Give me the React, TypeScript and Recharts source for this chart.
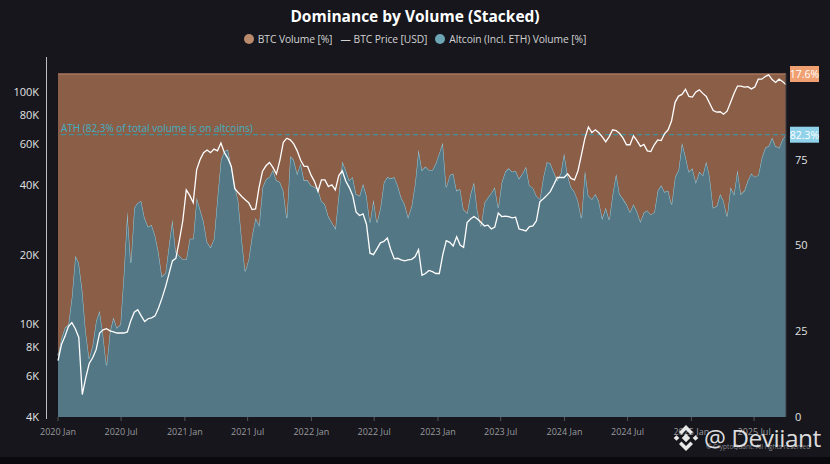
import React from 'react';
import {
  ComposedChart,
  Area,
  Line,
  XAxis,
  YAxis,
  ReferenceLine,
} from 'recharts';

// one reading every 10 days, starting 2020-01-01
const START_DATE = '2020-01-01';
const STEP_DAYS = 10;

// Altcoin (incl. ETH) share of total volume, %
const altcoinVolumePct = [
  18, 23, 26, 27, 35, 47, 45, 37, 25, 17,
  21, 28, 31, 24, 15, 25, 29, 26, 27, 42,
  60, 45, 61, 62.5, 63, 58, 55.5, 56, 53, 48,
  41, 42, 50, 57.6, 48, 47, 46, 46, 52, 52,
  64, 60.5, 57, 51, 49.5, 52, 64, 75, 77.5, 78,
  73, 67.5, 63, 52, 42.5, 46, 53, 58, 56, 67,
  69.3, 70, 72, 69, 68.5, 66, 58, 76, 75, 71,
  74, 69, 69, 67.5, 67, 66.5, 63, 62, 58.5, 56.7,
  55, 65, 74.5, 72, 69, 70, 65, 64.5, 68, 64.5,
  56.7, 63.4, 56.7, 61, 68.4, 70, 69.5, 70, 67.5, 64,
  62, 58.3, 61.5, 68, 78, 72, 73, 72, 72, 74,
  77, 80, 67, 70.5, 71, 66, 66.5, 60.5, 59.5, 65,
  68.5, 60, 55.6, 62.5, 64, 65.3, 67, 61, 68.5, 71.5,
  72.5, 71.5, 71.8, 69.5, 71, 73, 67.5, 66.8, 64.5, 63.5,
  70, 74.3, 74, 71.5, 69, 71, 77, 70.5, 67, 65.7,
  63, 58, 72, 64.5, 63.5, 65, 63, 58, 61, 57.5,
  65, 71, 65, 63.6, 62, 59.8, 62, 60, 57, 59.6,
  60.2, 59, 59.7, 66, 67.6, 65.6, 66, 62, 70, 72,
  80, 76, 71.5, 72.5, 68.5, 71.5, 70.5, 74.5, 70, 61,
  61.5, 65, 63, 58.5, 67, 65, 72, 65, 66, 69,
  71, 70, 70.5, 75.5, 78.5, 79, 81.5, 79, 78.5, 81,
  82.3,
];

// BTC price, thousands of USD
const btcPriceK = [
  7.0, 8.2, 8.9, 9.8, 10.2, 9.6, 8.8, 5.0, 5.9, 6.8,
  7.2, 7.8, 9.2, 9.5, 9.6, 9.4, 9.3, 9.2, 9.2, 9.2,
  9.3, 10.4, 11.3, 11.6, 10.9, 10.3, 10.6, 10.7, 10.9, 11.8,
  13.0, 14.5, 16.5, 18.8, 19.3, 23, 28, 38, 36, 33.5,
  46.5, 51.4, 55, 56.5, 55, 57, 56, 60.5, 55, 52,
  48, 38.5, 37, 35.6, 34.5, 33.5, 31.3, 31.5, 39, 45.8,
  48.3, 49.9, 47.5, 44.5, 51, 61, 63.5, 62.5, 60, 56,
  51, 48, 48, 44, 41.3, 37.5, 42, 42, 39.3, 40,
  38, 43.8, 46, 41.5, 39, 36, 30.5, 29.5, 30, 27,
  20.3, 20, 21.2, 22.5, 22.8, 23.6, 21, 19.2, 19.3, 19,
  18.8, 19, 19.1, 19.6, 21, 16.3, 16.6, 17.1, 16.9, 16.6,
  16.6, 20, 23, 22.6, 21.8, 23.9, 22, 21.5, 27.5, 28.5,
  29.2, 28.5, 27.6, 26.6, 26.8, 25.8, 26.3, 30.2, 29.2, 29.3,
  29.2, 28.8, 29, 25.8, 25.6, 25.3, 26.4, 26.6, 28, 33.8,
  34.8, 36, 37.4, 40, 43, 43, 43, 44.6, 42.6, 42,
  46, 54, 63.5, 71, 67.2, 69, 67, 64.3, 61.3, 64.5,
  69, 68.5, 66.5, 63.5, 59.5, 59.5, 65, 62, 58.5, 59.7,
  56, 55.6, 59.5, 62.4, 62, 66.5, 69, 75.5, 90.6, 96.4,
  98, 103, 96, 95.5, 100.5, 102.5, 99, 96, 89.5, 83.5,
  82.3, 82.5, 80.5, 83, 90.5, 99, 106.5, 106.5, 105.3, 105.8,
  103.5, 105.5, 114, 114, 117, 119, 113.5, 110.4, 114, 111.5,
  108,
];

const X_TICKS = [
  '2020-01-01', '2020-07-01', '2021-01-01', '2021-07-01', '2022-01-01', '2022-07-01',
  '2023-01-01', '2023-07-01', '2024-01-01', '2024-07-01', '2025-01-01', '2025-07-01',
];
const PRICE_TICKS = [4000, 6000, 8000, 10000, 20000, 40000, 60000, 80000, 100000];
const PCT_TICKS = [0, 25, 50, 75];

const ATH_PCT = 82.3;
const LAST_BTC_PCT = 17.6;

const BG = '#16161c';
const BROWN = '#8b5e48';
const TEAL = '#547785';
const TEAL_LINE = '#92c9d9';

const DAY = 86400000;
const t0 = Date.parse(START_DATE);

const data = altcoinVolumePct.map((alt, i) => ({
  t: t0 + i * STEP_DAYS * DAY,
  alt,
  btcVol: +(100 - alt).toFixed(1),
  price: btcPriceK[i] * 1000,
}));

const xTickValues = X_TICKS.map((d) => Date.parse(d));
const fmtDate = (v: number) => {
  const d = new Date(v);
  return `${d.getUTCFullYear()} ${d.getUTCMonth() === 0 ? 'Jan' : 'Jul'}`;
};

const Badge = (props: any) => {
  const { viewBox, text, color } = props;
  if (!viewBox) return null;
  const x = viewBox.x + viewBox.width + 4;
  const y = viewBox.y;
  return (
    <g>
      <rect x={x} y={y - 8} width={29} height={16} fill={color} />
      <text x={x + 14.5} y={y + 4} textAnchor="middle" fill="#ffffff" fontSize={10.5}>
        {text}
      </text>
    </g>
  );
};

const Dot = ({ color }: { color: string }) => (
  <span
    style={{
      display: 'inline-block',
      width: 10,
      height: 10,
      borderRadius: 5,
      background: color,
      marginRight: 4,
      verticalAlign: -1,
    }}
  />
);

const BinanceMark = () => (
  <svg width={30} height={30} viewBox="0 0 30 30" style={{ position: 'absolute', left: 671, top: 423 }}>
    <g fill="#e8e8e8">
      <rect x={12} y={12} width={6} height={6} transform="rotate(45 15 15)" />
      <rect x={3.5} y={13} width={4} height={4} transform="rotate(45 5.5 15)" />
      <rect x={22.5} y={13} width={4} height={4} transform="rotate(45 24.5 15)" />
      <polygon points="15,2 22,9 19.5,11.5 15,7 10.5,11.5 8,9" />
      <polygon points="15,28 22,21 19.5,18.5 15,23 10.5,18.5 8,21" />
    </g>
  </svg>
);

export default function App() {
  return (
    <div
      style={{
        position: 'absolute',
        left: 0,
        top: 0,
        width: 830,
        height: 464,
        background: BG,
        fontFamily: '"Open Sans", sans-serif',
        overflow: 'hidden',
      }}
    >
      <div
        style={{
          position: 'absolute',
          top: 5,
          width: 830,
          textAlign: 'center',
          color: '#ffffff',
          fontSize: 15.5,
          fontWeight: 700,
        }}
      >
        Dominance by Volume (Stacked)
      </div>
      <div
        style={{
          position: 'absolute',
          top: 32,
          width: 830,
          textAlign: 'center',
          color: '#d2d2d2',
          fontSize: 10.3,
          whiteSpace: 'nowrap',
          letterSpacing: -0.1,
        }}
      >
        <Dot color="#b98a6c" />
        <span style={{ marginRight: 8 }}>BTC Volume [%]</span>
        <span style={{ marginRight: 3 }}>—</span>
        <span style={{ marginRight: 8 }}>BTC Price [USD]</span>
        <Dot color="#6ea5b5" />
        <span>Altcoin (Incl. ETH) Volume [%]</span>
      </div>

      <ComposedChart
        width={830}
        height={464}
        data={data}
        margin={{ top: 74, right: 0, bottom: 0, left: 0 }}
        style={{ position: 'absolute', left: 0, top: 0 }}
      >
        <XAxis
          dataKey="t"
          type="number"
          domain={[data[0].t, data[data.length - 1].t]}
          ticks={xTickValues}
          tickFormatter={fmtDate}
          height={47}
          axisLine={false}
          tickLine={{ stroke: '#55555c' }}
          tickSize={4}
          tickMargin={8}
          tick={{ fill: '#9a9a9e', fontSize: 9 }}
          interval={0}
        />
        <YAxis
          yAxisId="price"
          orientation="left"
          scale="log"
          type="number"
          domain={[4000, 120000]}
          allowDataOverflow
          ticks={PRICE_TICKS}
          tickFormatter={(v: number) => `${v / 1000}K`}
          width={58}
          axisLine={false}
          tickLine={false}
          tickSize={6}
          tickMargin={13}
          tick={{ fill: '#e2e2e2', fontSize: 11 }}
          interval={0}
        />
        <YAxis
          yAxisId="pct"
          orientation="right"
          type="number"
          domain={[0, 100]}
          ticks={PCT_TICKS}
          width={44}
          axisLine={{ stroke: '#3a3a42' }}
          tickLine={false}
          tickSize={6}
          tickMargin={3}
          tick={{ fill: '#e2e2e2', fontSize: 11 }}
          interval={0}
        />
        <Area
          yAxisId="pct"
          type="linear"
          dataKey="alt"
          stackId="vol"
          fill={TEAL}
          fillOpacity={1}
          stroke={TEAL_LINE}
          strokeWidth={1.1}
          isAnimationActive={false}
        />
        <Area
          yAxisId="pct"
          type="linear"
          dataKey="btcVol"
          stackId="vol"
          fill={BROWN}
          fillOpacity={1}
          stroke="#a8775c"
          strokeWidth={1.5}
          isAnimationActive={false}
        />
        <ReferenceLine
          yAxisId="pct"
          y={ATH_PCT}
          stroke="#2f9fb0"
          strokeDasharray="5 3"
          strokeWidth={1}
          label={{
            value: 'ATH (82,3% of total volume is on altcoins)',
            position: 'insideBottomLeft',
            offset: 3,
            fill: '#3fb0c2',
            fontSize: 10,
          }}
        />
        <ReferenceLine
          yAxisId="pct"
          y={ATH_PCT}
          stroke="none"
          label={<Badge text={`${ATH_PCT}%`} color="#8fd2ea" />}
        />
        <ReferenceLine
          yAxisId="pct"
          y={100}
          stroke="none"
          label={<Badge text={`${LAST_BTC_PCT}%`} color="#f0a070" />}
        />
        <Line
          yAxisId="price"
          type="linear"
          dataKey="price"
          stroke="#ffffff"
          strokeWidth={1.3}
          dot={false}
          isAnimationActive={false}
        />
      </ComposedChart>

      <div style={{ position: 'absolute', left: 46, top: 57, width: 1, height: 362, background: '#bdbdc2' }} />
      <div
        style={{
          position: 'absolute',
          left: 330,
          top: 215,
          color: 'rgba(255,255,255,0.025)',
          fontSize: 38,
          fontWeight: 700,
          pointerEvents: 'none',
        }}
      >
        CryptoQuant
      </div>
      <div style={{ position: 'absolute', left: 0, top: 457, width: 830, height: 7, background: '#0a0a0c' }} />
      <div style={{ position: 'absolute', left: 706, top: 444, fontSize: 6.5, lineHeight: 1, color: '#8a8a8e', whiteSpace: 'nowrap' }}>
        © CryptoQuant. All rights reserved
      </div>
      <BinanceMark />
      <div
        style={{
          position: 'absolute',
          left: 704,
          top: 426,
          fontSize: 24.5,
          lineHeight: 1,
          color: 'rgba(240,240,240,0.92)',
          whiteSpace: 'nowrap',
          letterSpacing: -0.5,
        }}
      >
        @ Deviiant
      </div>
    </div>
  );
}
